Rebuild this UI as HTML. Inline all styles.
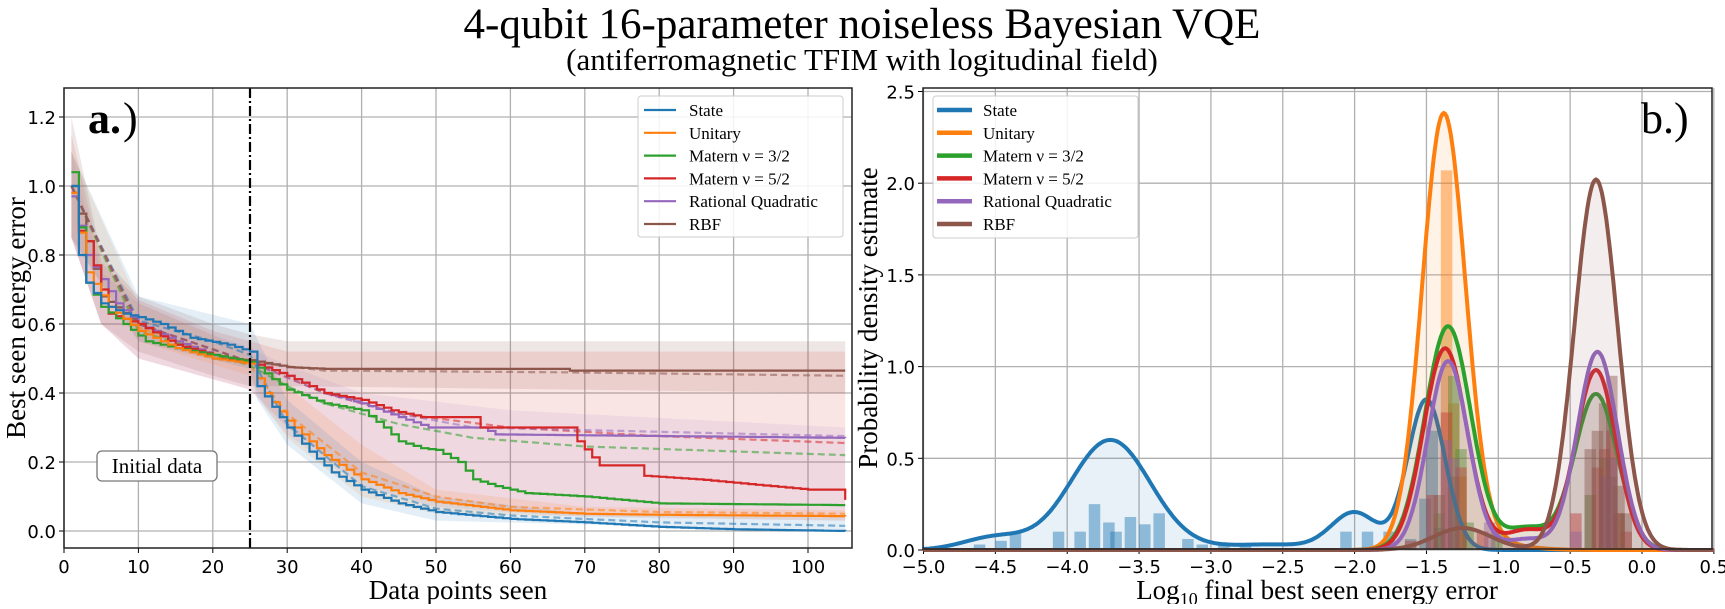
<!DOCTYPE html>
<html><head><meta charset="utf-8"><style>
body{margin:0;background:#fff;width:1725px;height:604px;overflow:hidden}
svg text{font-family:"Liberation Serif","DejaVu Serif",serif}
svg text.t{font-family:"DejaVu Sans","Liberation Sans",sans-serif}
</style></head><body>
<svg id="s" width="1725" height="604" xmlns="http://www.w3.org/2000/svg">
<text x="862" y="38" font-size="43" text-anchor="middle">4-qubit 16-parameter noiseless Bayesian VQE</text>
<text x="862" y="70" font-size="31" text-anchor="middle">(antiferromagnetic TFIM with logitudinal field)</text>
<g id="L"></g><g id="R"></g>
</svg>
<script>
const NS="http://www.w3.org/2000/svg";
function el(p,t,a,txt){const e=document.createElementNS(NS,t);for(const k in a)e.setAttribute(k,a[k]);if(txt!==undefined)e.textContent=txt;p.appendChild(e);return e;}
const C={b:"#1f77b4",o:"#ff7f0e",g:"#2ca02c",r:"#d62728",p:"#9467bd",n:"#8c564b"};
const L=document.getElementById("L");
const lx0=64,lx1=852,ly0=88,ly1=548;
const X=v=>64+v*7.44, Y=v=>531-v*345;
for(let t=0;t<=100;t+=10){el(L,"line",{x1:X(t),x2:X(t),y1:ly0,y2:ly1,stroke:"#b0b0b0","stroke-width":1.3});el(L,"line",{x1:X(t),x2:X(t),y1:ly1,y2:ly1+5,stroke:"#000"});el(L,"text",{x:X(t),y:573,"font-size":18,"text-anchor":"middle",class:"t"},t);}
for(let t=0;t<=6;t++){const v=t*0.2;el(L,"line",{x1:lx0,x2:lx1,y1:Y(v),y2:Y(v),stroke:"#b0b0b0","stroke-width":1.3});el(L,"line",{x1:lx0-5,x2:lx0,y1:Y(v),y2:Y(v),stroke:"#000"});el(L,"text",{x:lx0-8,y:Y(v)+7,"font-size":18,"text-anchor":"end",class:"t"},v.toFixed(1));}
function interp(pts,x){for(let i=0;i<pts.length-1;i++){if(x>=pts[i][0]&&x<=pts[i+1][0]){const t=(x-pts[i][0])/(pts[i+1][0]-pts[i][0]);return pts[i][1]+t*(pts[i+1][1]-pts[i][1]);}}return pts[pts.length-1][1];}
function step(pts){let d="";for(let x=1;x<=105;x++){let y=interp(pts,x);d+=(x==1?"M":"L")+X(x).toFixed(1)+","+Y(y).toFixed(1);if(x<105)d+="L"+X(x+1).toFixed(1)+","+Y(y).toFixed(1);}return d;}
function smooth(pts){let d="";for(let x=1;x<=105;x+=0.5){d+=(x==1?"M":"L")+X(x).toFixed(1)+","+Y(interp(pts,x)).toFixed(1);}return d;}
function band(lo,hi,col,op){let d="";for(let x=1;x<=105;x+=1)d+=(x==1?"M":"L")+X(x).toFixed(1)+","+Y(interp(hi,x)).toFixed(1);for(let x=105;x>=1;x-=1)d+="L"+X(x).toFixed(1)+","+Y(interp(lo,x)).toFixed(1);el(L,"path",{d:d+"Z",fill:col,"fill-opacity":op});}
const S={
b:[[1,1.0],[2,0.8],[3,0.72],[5,0.66],[8,0.63],[10,0.62],[13,0.6],[17,0.56],[22,0.54],[25,0.52],[26,0.42],[28,0.36],[30,0.3],[33,0.23],[36,0.17],[40,0.12],[45,0.08],[50,0.055],[60,0.035],[70,0.025],[80,0.012],[90,0.005],[105,0.0]],
o:[[1,0.98],[3,0.75],[6,0.65],[10,0.58],[15,0.53],[20,0.5],[25,0.485],[27,0.4],[30,0.32],[35,0.22],[40,0.15],[45,0.11],[50,0.085],[60,0.06],[70,0.05],[80,0.047],[105,0.043]],
g:[[1,1.04],[3,0.72],[5,0.65],[8,0.6],[11,0.55],[15,0.53],[20,0.51],[25,0.49],[28,0.44],[30,0.41],[35,0.37],[40,0.35],[43,0.3],[45,0.26],[48,0.24],[50,0.235],[53,0.2],[55,0.15],[58,0.13],[62,0.11],[70,0.1],[80,0.08],[105,0.075]],
r:[[1,0.98],[2,0.87],[3,0.84],[6,0.63],[10,0.6],[15,0.54],[20,0.51],[25,0.49],[30,0.45],[35,0.4],[40,0.38],[44,0.35],[48,0.33],[55,0.33],[56,0.3],[68,0.3],[69,0.26],[72,0.19],[77,0.19],[78,0.16],[85,0.15],[90,0.14],[100,0.12],[104,0.12],[105,0.09]],
p:[[1,0.97],[3,0.8],[7,0.66],[10,0.6],[15,0.55],[20,0.51],[25,0.49],[30,0.45],[35,0.4],[40,0.37],[45,0.33],[49,0.3],[56,0.3],[58,0.28],[105,0.27]],
n:[[1,1.0],[5,0.68],[10,0.6],[15,0.54],[20,0.5],[25,0.495],[30,0.475],[35,0.47],[67,0.47],[68,0.465],[105,0.465]]};
band([[1,0.85],[5,0.6],[10,0.52],[20,0.45],[25,0.42],[30,0.42],[105,0.4]],[[1,1.2],[5,0.8],[10,0.68],[20,0.6],[25,0.57],[30,0.55],[105,0.55]],"#8c564b",0.15);
band([[1,0.85],[5,0.6],[10,0.5],[20,0.44],[25,0.41],[30,0.3],[40,0.15],[50,0.08],[70,0.05],[105,0.04]],[[1,1.15],[5,0.78],[10,0.67],[20,0.58],[25,0.55],[30,0.52],[105,0.52]],"#d62728",0.12);
band([[1,0.85],[5,0.6],[10,0.5],[20,0.44],[25,0.41],[30,0.28],[40,0.13],[50,0.07],[70,0.04],[105,0.03]],[[1,1.1],[5,0.75],[10,0.66],[20,0.57],[25,0.53],[30,0.48],[40,0.4],[60,0.35],[105,0.3]],"#9467bd",0.1);
band([[1,0.85],[10,0.55],[25,0.45],[27,0.36],[30,0.27],[40,0.1],[50,0.05],[105,0.03]],[[1,1.1],[10,0.66],[25,0.52],[30,0.42],[40,0.25],[50,0.12],[70,0.07],[105,0.06]],"#ff7f0e",0.12);
band([[1,0.85],[10,0.55],[25,0.47],[26,0.38],[30,0.25],[40,0.08],[50,0.03],[105,0.0]],[[1,1.1],[10,0.68],[25,0.6],[30,0.38],[40,0.2],[50,0.1],[70,0.05],[105,0.04]],"#1f77b4",0.12);
const D={b:[[1,1],[10,0.61],[20,0.55],[25,0.51],[30,0.31],[40,0.13],[50,0.065],[60,0.045],[80,0.025],[105,0.015]],
o:[[1,1],[10,0.59],[25,0.48],[30,0.34],[40,0.17],[50,0.1],[60,0.07],[80,0.055],[105,0.05]],
g:[[1,1],[10,0.58],[25,0.48],[30,0.42],[35,0.37],[45,0.31],[55,0.27],[70,0.245],[105,0.22]],
r:[[1,1],[10,0.6],[25,0.49],[35,0.4],[45,0.34],[60,0.3],[80,0.275],[105,0.255]],
p:[[1,1],[10,0.6],[25,0.49],[35,0.4],[45,0.34],[55,0.3],[105,0.275]],
n:[[1,1],[10,0.6],[25,0.49],[35,0.465],[67,0.46],[105,0.45]]};
for(const k in D)el(L,"path",{d:smooth(D[k]),fill:"none",stroke:C[k],"stroke-opacity":0.55,"stroke-width":2.2,"stroke-dasharray":"7,4"});
for(const k of ["n","p","r","g","o","b"])el(L,"path",{d:step(S[k]),fill:"none",stroke:C[k],"stroke-width":2.2});
el(L,"line",{x1:X(25),x2:X(25),y1:ly0,y2:ly1,stroke:"#000","stroke-width":2.2,"stroke-dasharray":"10,3,2,3"});
el(L,"rect",{x:lx0,y:ly0,width:lx1-lx0,height:ly1-ly0,fill:"none",stroke:"#222","stroke-width":1.5});
el(L,"text",{x:88,y:133,"font-size":44,"font-weight":"bold"},"a.");
el(L,"text",{x:123,y:133,"font-size":44},")");
el(L,"rect",{x:97,y:451,width:120,height:30,rx:5,fill:"#fff",stroke:"#777","stroke-width":1.3});
el(L,"text",{x:157,y:473,"font-size":21,"text-anchor":"middle"},"Initial data");
el(L,"text",{x:0,y:0,"font-size":27,"text-anchor":"middle",transform:"translate(25,318) rotate(-90)"},"Best seen energy error");
el(L,"text",{x:458,y:599,"font-size":27,"text-anchor":"middle"},"Data points seen");
function legend(P,x,y,w,h,lw,l0,l1,tx){el(P,"rect",{x:x,y:y,width:w,height:h,rx:3,fill:"#fff","fill-opacity":0.85,stroke:"#ccc"});
const names=[["b","State"],["o","Unitary"],["g","Matern \u03bd = 3/2"],["r","Matern \u03bd = 5/2"],["p","Rational Quadratic"],["n","RBF"]];
names.forEach((n,i)=>{const yy=y+14+i*22.8;el(P,"line",{x1:l0,x2:l1,y1:yy,y2:yy,stroke:C[n[0]],"stroke-width":lw});el(P,"text",{x:tx,y:yy+6,"font-size":17},n[1]);});}
legend(L,638,96,205,141,2.2,644,676,689);
const R=document.getElementById("R");
const rx0=923,rx1=1712,ry0=88,ry1=549;
const RX=v=>1642+v*143.7, RY=v=>550-v*183.4;
for(let t=-5;t<=0.51;t+=0.5){el(R,"line",{x1:RX(t),x2:RX(t),y1:ry0,y2:ry1,stroke:"#b0b0b0","stroke-width":1.3});el(R,"line",{x1:RX(t),x2:RX(t),y1:ry1,y2:ry1+5,stroke:"#000"});el(R,"text",{x:RX(t),y:573,"font-size":18,"text-anchor":"middle",class:"t"},(t<-0.01?"\u2212":"")+Math.abs(t).toFixed(1));}
for(let t=0;t<=2.51;t+=0.5){el(R,"line",{x1:rx0,x2:rx1,y1:RY(t),y2:RY(t),stroke:"#b0b0b0","stroke-width":1.3});el(R,"line",{x1:rx0-5,x2:rx0,y1:RY(t),y2:RY(t),stroke:"#000"});el(R,"text",{x:rx0-8,y:RY(t)+7,"font-size":18,"text-anchor":"end",class:"t"},t.toFixed(1));}
const bars=[["b",[[-4.65,0.03],[-4.5,0.05],[-4.4,0.1],[-4.1,0.1],[-3.95,0.1],[-3.85,0.25],[-3.75,0.15],[-3.7,0.1],[-3.6,0.18],[-3.5,0.14],[-3.4,0.2],[-3.2,0.06],[-3.1,0.03],[-2.95,0.03],[-2.8,0.02],[-2.1,0.1],[-1.95,0.1],[-1.8,0.1],[-1.65,0.06],[-1.55,0.28],[-1.5,0.65],[-1.45,0.12]]],
["o",[[-1.4,2.07],[-1.35,0.8],[-1.3,0.4]]],["g",[[-1.45,0.2],[-1.35,0.95],[-1.3,0.55],[-1.25,0.15],[-1.05,0.1],[-0.4,0.3],[-0.3,0.5],[-0.25,0.4],[-0.2,0.2]]],
["r",[[-1.65,0.05],[-1.5,0.3],[-1.4,0.75],[-1.3,0.45],[-1.15,0.1],[-0.5,0.2],[-0.35,0.45],[-0.3,0.55],[-0.25,0.65],[-0.2,0.2],[-0.15,0.1]]],
["p",[[-1.4,0.6],[-1.35,0.5],[-1.1,0.15],[-0.5,0.1],[-0.3,0.4],[-0.25,0.5]]],
["n",[[-1.45,0.3],[-1.35,0.4],[-0.4,0.55],[-0.35,0.65],[-0.3,0.8],[-0.25,0.95],[-0.2,0.35],[-0.15,0.2]]]];
bars.forEach(([k,bs])=>bs.forEach(([x,h])=>el(R,"rect",{x:RX(x),y:RY(h),width:0.08*143.7,height:h*183.4,fill:C[k],"fill-opacity":0.45})));
const K={b:[[0.6,-3.7,0.28],[0.07,-4.5,0.22],[0.2,-2.0,0.16],[0.82,-1.5,0.13],[0.03,-2.6,0.35]],
o:[[2.35,-1.38,0.15],[0.05,-1.15,0.25]],g:[[1.22,-1.35,0.16],[0.85,-0.32,0.15],[0.12,-0.8,0.16]],
r:[[1.1,-1.37,0.15],[0.98,-0.32,0.14],[0.11,-0.8,0.16]],p:[[1.03,-1.35,0.14],[1.08,-0.31,0.14],[0.06,-0.8,0.16]],
n:[[0.12,-1.25,0.2],[2.02,-0.32,0.15]]};
const f=(k,x)=>K[k].reduce((s,[h,m,sg])=>s+h*Math.exp(-(x-m)*(x-m)/(2*sg*sg)),0);
for(const k of ["b","o","g","r","p","n"]){let d="";for(let x=-5;x<=0.5001;x+=0.01)d+=(d?"L":"M")+RX(x).toFixed(1)+","+RY(f(k,x)).toFixed(1);
el(R,"path",{d:d+"L"+RX(0.5)+","+RY(0)+"L"+RX(-5)+","+RY(0)+"Z",fill:C[k],"fill-opacity":0.1});el(R,"path",{d:d,fill:"none",stroke:C[k],"stroke-width":4});}
el(R,"rect",{x:rx0,y:ry0,width:rx1-rx0,height:ry1-ry0,fill:"none",stroke:"#222","stroke-width":1.5});
legend(R,933,96,205,142,4.5,937,972,983);
el(R,"text",{x:1641,y:133,"font-size":44},"b.)");
el(R,"text",{x:0,y:0,"font-size":27,"text-anchor":"middle",transform:"translate(877,318) rotate(-90)"},"Probability density estimate");
const xl=el(R,"text",{x:1317,y:599,"font-size":27,"text-anchor":"middle"});
xl.innerHTML='Log<tspan font-size="18" dy="6">10</tspan><tspan dy="-6"> final best seen energy error</tspan>';
</script>
</body></html>
